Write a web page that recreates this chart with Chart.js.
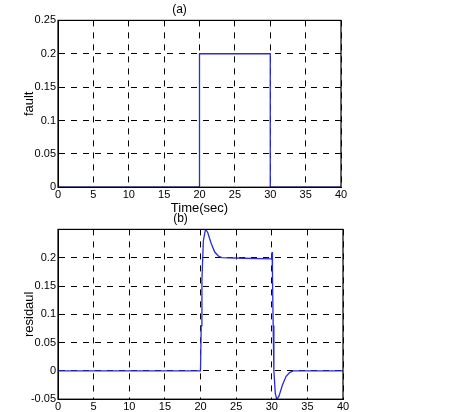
<!DOCTYPE html>
<html><head><meta charset="utf-8">
<script src="https://cdn.jsdelivr.net/npm/chart.js@4"></script>
<style>
html,body{margin:0;padding:0;background:#fff;width:474px;height:412px;overflow:hidden}
#a{position:absolute;left:0;top:0;width:474px;height:216px}
#b{position:absolute;left:0;top:206px;width:474px;height:222px}
</style></head><body>
<div id="a"><canvas id="c1"></canvas></div>
<div id="b"><canvas id="c2"></canvas></div>
<script>
const xTicks=[0,5,10,15,20,25,30,35,40];
const faultX=[0,20,20,30,30,40];
const faultY=[0,0,0.2,0.2,0,0];
const resX=[0,20,20.1,20.2,20.4,20.7,21,21.5,22,22.5,23,26,30,30.05,30.1,30.2,30.3,30.5,30.7,31,31.5,32,32.5,33,40];
const resY=[0,0,0.08,0.16,0.23,0.25,0.245,0.225,0.21,0.203,0.2,0.199,0.198,0.21,0.17,0.08,0.0,-0.04,-0.05,-0.045,-0.025,-0.01,-0.003,0,0];
Chart.defaults.font.family='"Liberation Sans", Arial, sans-serif';
Chart.defaults.font.size=11;
Chart.defaults.color='#000';
function mk(id,xs,ys,title,ylab,ymin,ymax,pad,hideTop){
  return new Chart(document.getElementById(id),{type:'scatter',
    data:{datasets:[{data:xs.map((x,i)=>({x:x,y:ys[i]})),showLine:true,borderColor:'#2b2bd9',borderWidth:1.3,pointRadius:0,tension:0}]},
    options:{animation:false,responsive:true,maintainAspectRatio:false,
      layout:{padding:pad},
      plugins:{legend:{display:false},tooltip:{enabled:false},
        title:{display:true,text:title,font:{size:12,weight:'normal'},padding:{top:0,bottom:4}}},
      scales:{
        x:{type:'linear',min:0,max:40,afterBuildTicks:s=>{s.ticks=xTicks.map(v=>({value:v}));},
          ticks:{padding:1,maxRotation:0},
          grid:{color:'#000',lineWidth:1,drawTicks:false},border:{color:'#000',dash:[6,6],display:true},
          title:{display:true,text:'Time(sec)',font:{size:13},padding:{top:-2,bottom:0}}},
        y:{min:ymin,max:ymax,afterFit:s=>{s.width=40;},
          ticks:{stepSize:0.05,padding:2,callback:v=>{v=Math.round(v*100)/100;if(hideTop&&v===ymax)return '';return String(v);}},
          grid:{color:'#000',drawTicks:false},border:{color:'#000',dash:[6,6]},
          title:{display:true,text:ylab,font:{size:13},padding:{bottom:0}}}
      }},
    plugins:[{id:'frame',afterDraw(c){const a=c.chartArea,x=c.ctx;x.save();x.strokeStyle='#000';x.lineWidth=1.2;x.setLineDash([]);x.strokeRect(a.left,a.top,a.right-a.left,a.bottom-a.top);x.restore();}}]
  });
}
mk('c1',faultX,faultY,'(a)','fault',0,0.25,{top:2,right:133,bottom:0,left:18},false);
mk('c2',resX,resY,'(b)','residaul',-0.05,0.25,{top:5,right:131,bottom:0,left:18},true);
</script></body></html>
